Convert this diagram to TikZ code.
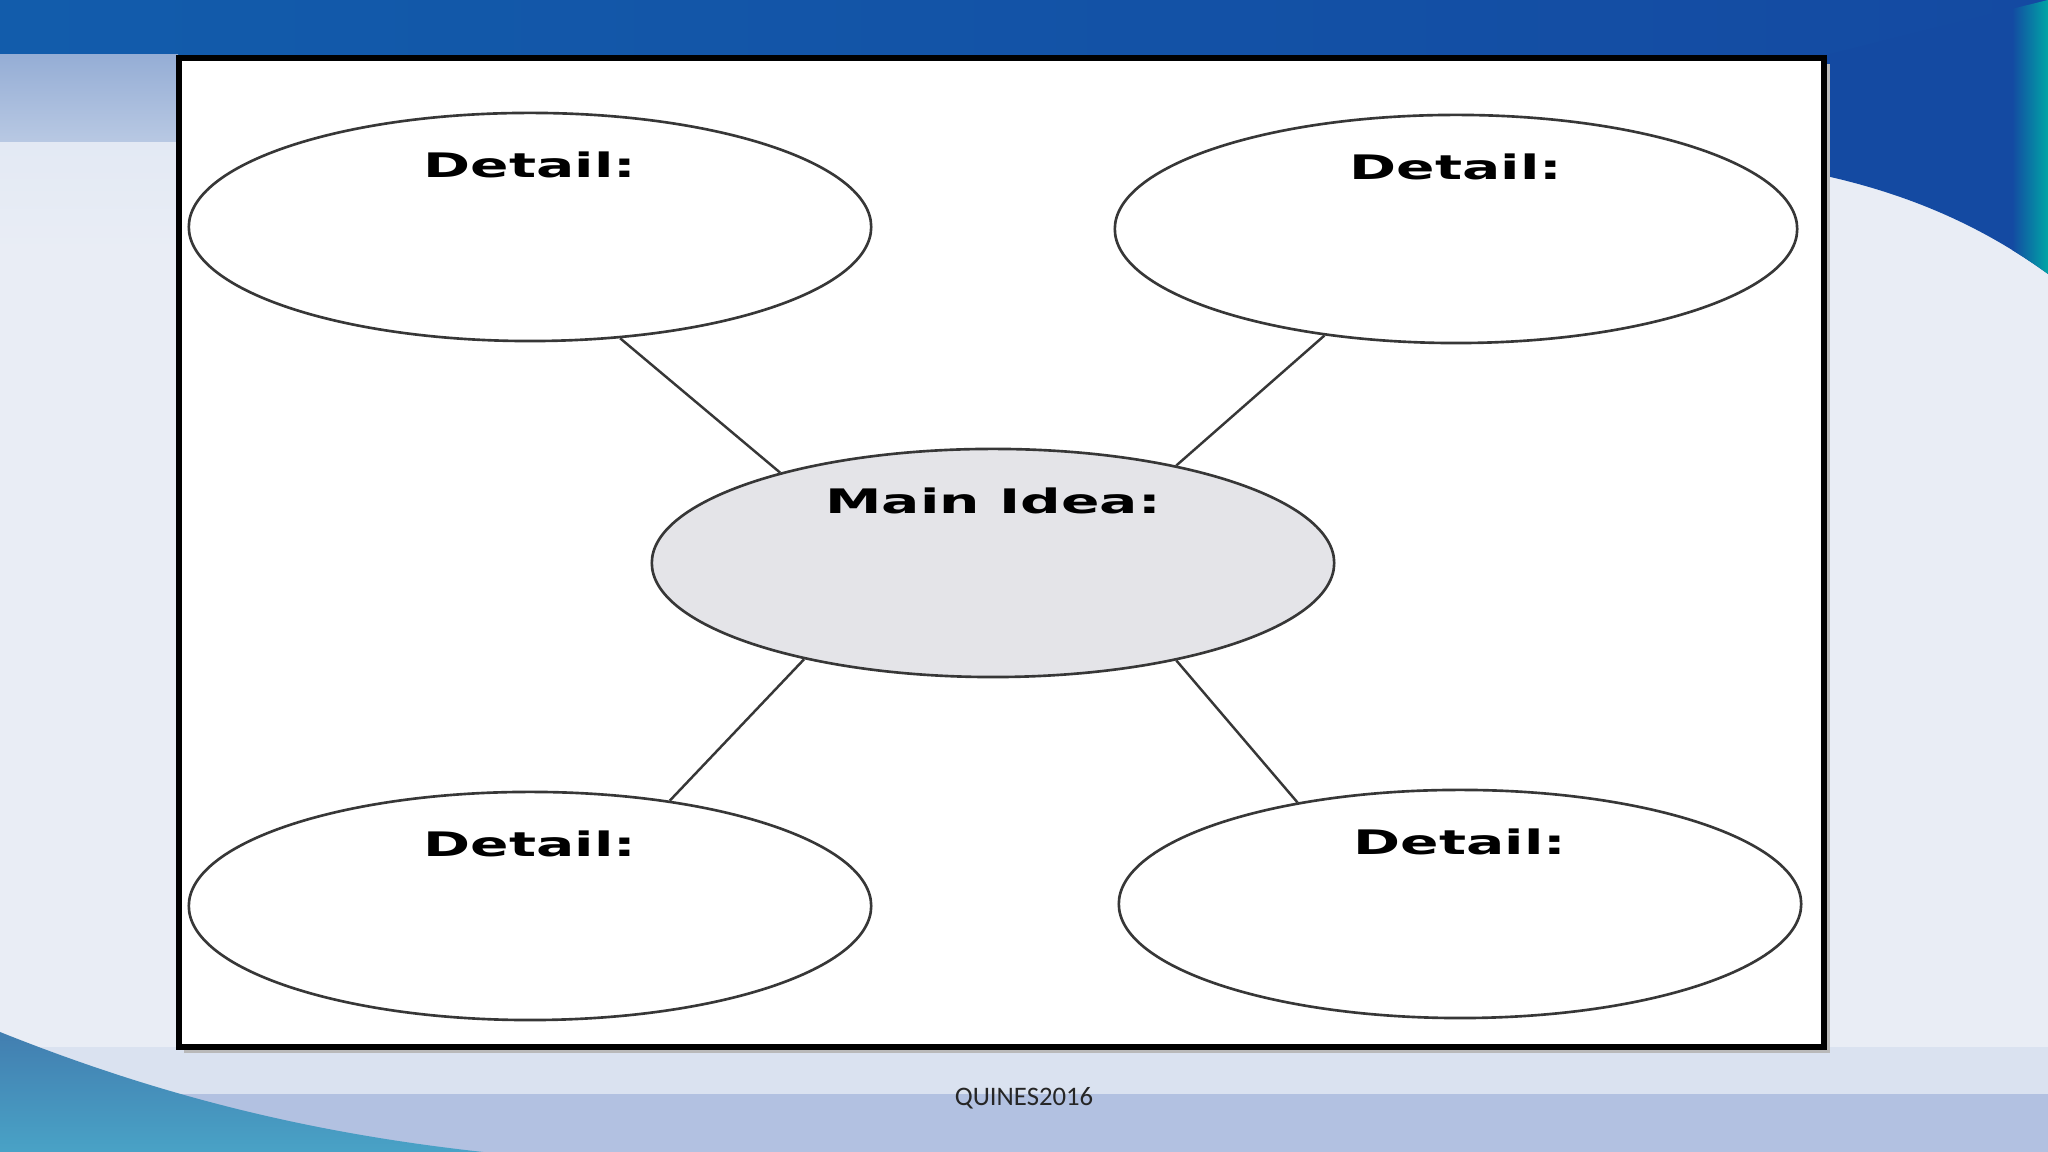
\documentclass[tikz,border=0pt]{standalone}
\usepackage{fontspec}
\usetikzlibrary{shapes.geometric}
\newfontfamily\headfont{DejaVu Sans}[FakeStretch=1.68]
\newfontfamily\footfont{Carlito}
\definecolor{slidebg}{RGB}{233,237,245}
\definecolor{bandblue}{RGB}{20,74,162}
\definecolor{bandlight}{RGB}{218,226,240}
\definecolor{banddark}{RGB}{178,193,225}
\definecolor{swoosh}{RGB}{66,126,176}
\definecolor{ideagray}{RGB}{228,228,232}
\definecolor{inkgray}{RGB}{55,55,55}
\begin{document}
\begin{tikzpicture}[x=0.01cm,y=0.01cm,
  bubble/.style={draw=inkgray,line width=0.75pt,ellipse,fill=white,
    minimum width=6.82cm,minimum height=2.28cm,inner sep=0pt},
  headtext/.style={anchor=center,yshift=-0.53cm,inner sep=0pt,
    font=\headfont\bfseries\fontsize{9.6}{12}\selectfont},
  detail/.style={bubble,label={[headtext]90:Detail:}},
  link/.style={draw=inkgray,line width=0.7pt}]
\useasboundingbox (0,0) rectangle (2048,1152);
% slide background
\fill[slidebg] (0,0) rectangle (2048,1152);
\shade[left color=bandblue!90!cyan,right color=bandblue] (0,1097) rectangle (2048,1152);
\shade[top color=bandblue!45!white,bottom color=bandblue!30!white] (0,1009) rectangle (178,1097);
\shade[top color=bandblue!12!white,bottom color=slidebg] (0,900) rectangle (178,1009);
\begin{scope}
\clip (1826,1097) -- (1826,976) .. controls (1920,955) and (1990,920) .. (2048,878) -- (2048,1152) -- cycle;
\fill[bandblue] (1826,870) rectangle (2048,1152);
\shade[left color=bandblue,right color=teal!70!cyan] (2012,870) rectangle (2048,1152);
\end{scope}
\fill[bandlight] (0,58) rectangle (2048,105);
\fill[banddark] (0,0) rectangle (2048,58);
\shade[top color=swoosh,bottom color=swoosh!80!cyan!90!white] (0,120) .. controls (150,60) and (300,20) .. (483,0) -- (0,0) -- cycle;
% frame
\fill[gray!55] (184,99) rectangle (1830,1088);
\fill[white] (179,105) rectangle (1824,1094);
\draw[line width=0.06cm] (179,105) rectangle (1824,1094);
% bubbles
\node[detail] (tl) at (530,925) {};
\node[detail] (tr) at (1456,923) {};
\node[bubble,fill=ideagray,label={[headtext]90:Main Idea:}] (main) at (993,589) {};
\node[detail] (bl) at (530,246) {};
\node[detail] (br) at (1460,248) {};
\draw[link] (tl.-51) -- (main.157);
\draw[link] (tr.219) -- (main.28);
\draw[link] (main.207) -- (bl.37);
\draw[link] (main.-28) -- (br.148);
\node[font=\footfont\fontsize{7.6}{9}\selectfont,text=black!85] (foot) at (1024,54) {QUINES2016};
\end{tikzpicture}
\end{document}
